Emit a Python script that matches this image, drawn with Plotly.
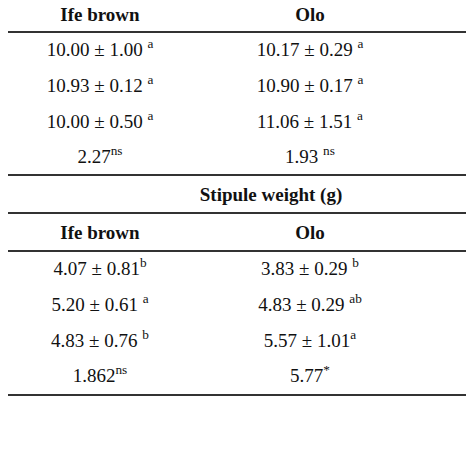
import plotly.graph_objects as go

# table content
varieties = ['Ife brown', 'Olo', 'Third']
section_title = 'Stipule weight (g)'

top_rows = [
    ['10.00 ± 1.00 <sup>a</sup>', '10.17 ± 0.29 <sup>a</sup>', '10.50 ± 0.50 <sup>a</sup>'],
    ['10.93 ± 0.12 <sup>a</sup>', '10.90 ± 0.17 <sup>a</sup>', '11.00 ± 0.50 <sup>a</sup>'],
    ['10.00 ± 0.50 <sup>a</sup>', '11.06 ± 1.51 <sup>a</sup>', '11.20 ± 0.30 <sup>a</sup>'],
    ['2.27<sup>ns</sup>', '1.93 <sup>ns</sup>', '0.5<sup>ns</sup>'],
]
stipule_rows = [
    ['4.07 ± 0.81<sup>b</sup>', '3.83 ± 0.29 <sup>b</sup>', '4.50 ± 0.50 <sup>b</sup>'],
    ['5.20 ± 0.61 <sup>a</sup>', '4.83 ± 0.29 <sup>ab</sup>', '5.20 ± 0.29 <sup>a</sup>'],
    ['4.83 ± 0.76 <sup>b</sup>', '5.57 ± 1.01<sup>a</sup>', '5.10 ± 0.50 <sup>a</sup>'],
    ['1.862<sup>ns</sup>', '5.77<sup>*</sup>', '1.2<sup>ns</sup>'],
]

col_x = [92, 302, 512]
top_header_y = 8
top_row_y = [43, 79, 115, 150]
title_y = 188
stip_header_y = 226
stip_row_y = [262, 298, 334, 369]
rule_y = [24, 167, 205, 243, 387]

fig = go.Figure()

hx, hy, ht = [], [], []
for y in (top_header_y, stip_header_y):
    for x, name in zip(col_x, varieties):
        hx.append(x); hy.append(y); ht.append('<b>%s</b>' % name if name != 'Third' else '')
hx.append(263); hy.append(title_y); ht.append('<b>%s</b>' % section_title)
fig.add_trace(go.Scatter(x=hx, y=hy, text=ht, mode='text', cliponaxis=False,
                         textfont=dict(family='Liberation Serif', size=19, color='#111')))

bx, by, bt = [], [], []
for rows, ys in ((top_rows, top_row_y), (stipule_rows, stip_row_y)):
    for row, y in zip(rows, ys):
        for x, cell in zip(col_x, row):
            bx.append(x); by.append(y); bt.append(cell)
fig.add_trace(go.Scatter(x=bx, y=by, text=bt, mode='text', cliponaxis=False,
                         textfont=dict(family='Liberation Serif', size=19, color='#111')))

for y in rule_y:
    fig.add_shape(type='line', x0=0, x1=474, y0=y, y1=y, xref='x', yref='y',
                  line=dict(color='#333', width=2))

fig.update_layout(width=474, height=474, margin=dict(l=0, r=0, t=0, b=0),
                  paper_bgcolor='white', plot_bgcolor='white', showlegend=False,
                  xaxis=dict(range=[0, 474], visible=False),
                  yaxis=dict(range=[474, 0], visible=False))

fig.write_html('out.html')
